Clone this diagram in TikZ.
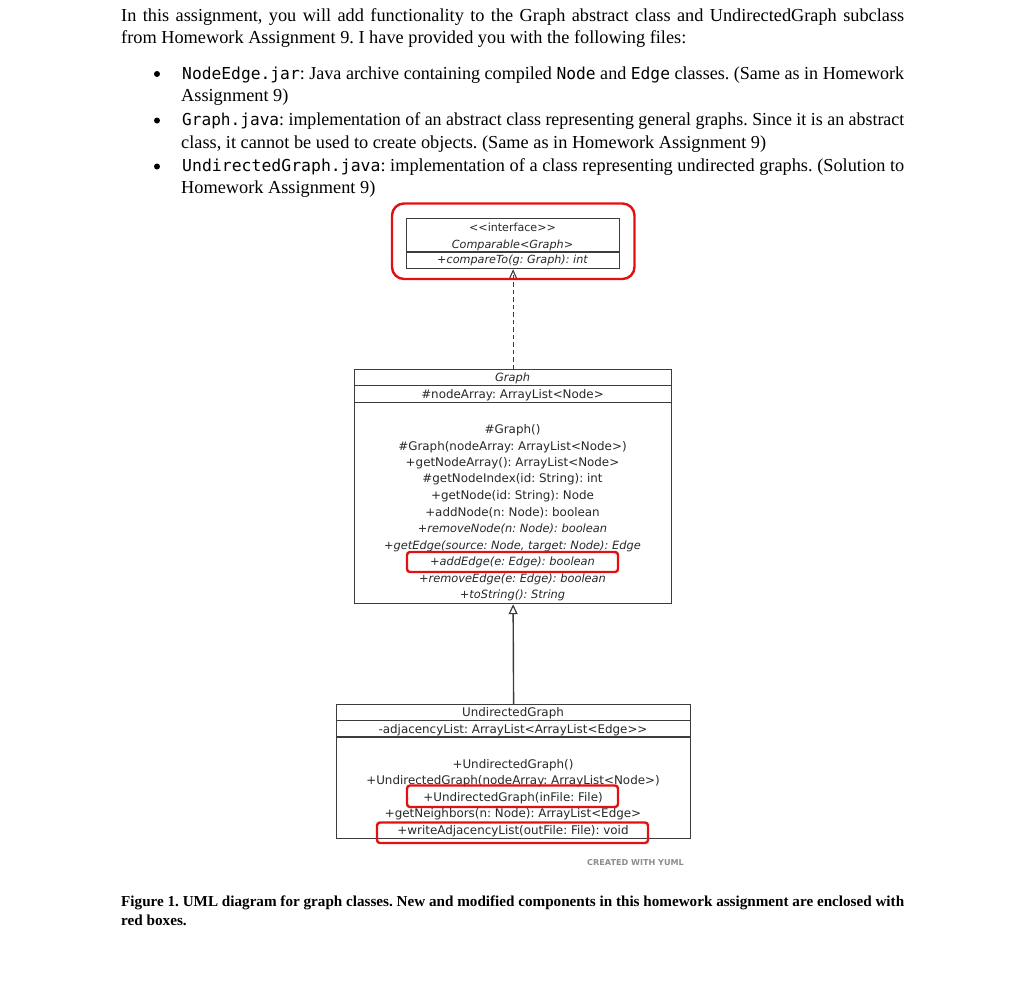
\documentclass[tikz,border=0pt]{standalone}
\usepackage{fontspec}
\usepackage{graphicx}
\setmainfont{Liberation Serif}
\newfontfamily\codefont{DejaVu Sans Mono}[Scale=0.9]
\newfontfamily\umlfont{DejaVu Sans}
\usetikzlibrary{arrows.meta}
\definecolor{hl}{RGB}{228,16,16}
\definecolor{uml}{RGB}{60,60,60}
\definecolor{umltext}{RGB}{40,40,40}
\newsavebox\jlbox
\newcommand\jl[2]{\sbox\jlbox{#2}\ifdim\wd\jlbox>#1\relax\resizebox{#1}{\height}{\usebox\jlbox}\else\makebox[#1][s]{#2}\fi}
\frenchspacing
\begin{document}
\begin{tikzpicture}[x=1pt,y=-1pt,
  body/.style={anchor=base west,inner sep=0,font=\fontsize{18.3}{22}\selectfont\frenchspacing},
  capt/.style={anchor=base west,inner sep=0,font=\fontsize{15.2}{18}\selectfont\bfseries\frenchspacing},
  bul/.style={circle,fill=black,inner sep=0,minimum size=6pt},
  cls/.style={draw=uml,line width=1.2pt,rectangle,inner sep=0,anchor=north west},
  sepline/.style={draw=uml,line width=1.2pt},
  mem/.style={anchor=base,inner sep=0,text=umltext,font=\umlfont\fontsize{11.9}{13}\selectfont},
  memi/.style={mem,font=\umlfont\itshape\fontsize{11.4}{13}\selectfont},
  smem/.style={anchor=base,inner sep=0,text=umltext,font=\umlfont\fontsize{11.1}{12}\selectfont},
  smemi/.style={smem,font=\umlfont\itshape\fontsize{11.2}{12}\selectfont},
  hlbox/.style={draw=hl,line width=2.4pt,rounded corners=3pt},
  realize/.style={draw=uml,line width=1.1pt,dash pattern=on 4.5pt off 3pt,-{Straight Barb[length=9pt,width=8pt,line width=1.1pt]}},
  inherit/.style={draw=uml,line width=1.4pt,-{Triangle[open,length=10pt,width=9pt,line width=1.2pt,fill=white]}}
]
\useasboundingbox[fill=white] (0,0) rectangle (1024,980);

% ---- intro text ----
\node[body] (t1) at (121,21.5) {\jl{783pt}{In this assignment, you will add functionality to the Graph abstract class and UndirectedGraph subclass}};
\node[body] (t2) at (121,43.5) {from Homework Assignment 9. I have provided you with the following files:};

\node[bul] (d1) at (157,74) {};
\node[body] (b1a) at (182,79) {\jl{722pt}{{\codefont NodeEdge.jar}: Java archive containing compiled {\codefont Node} and {\codefont Edge} classes. (Same as in Homework}};
\node[body] (b1b) at (181,101.5) {Assignment 9)};

\node[bul] (d2) at (157,120.5) {};
\node[body] (b2a) at (182,125.5) {\jl{722pt}{{\codefont Graph.java}: implementation of an abstract class representing general graphs. Since it is an abstract}};
\node[body] (b2b) at (181,148) {class, it cannot be used to create objects. (Same as in Homework Assignment 9)};

\node[bul] (d3) at (157,166.5) {};
\node[body] (b3a) at (182,171.5) {\jl{722pt}{{\codefont UndirectedGraph.java}: implementation of a class representing undirected graphs. (Solution to}};
\node[body] (b3b) at (181,193.5) {Homework Assignment 9)};

% ---- Comparable interface ----
\node[cls,minimum width=213pt,minimum height=50pt] (comp) at (406,218) {};
\draw[sepline] (406,252) -- (619,252);
\node[smem] (c1) at (512.5,231) {<{}<interface>{}>};
\node[smemi] (c2) at (512.5,248) {Comparable<Graph>};
\node[smemi] (c3) at (512.5,263.5) {+compareTo(g: Graph): int};

% ---- Graph ----
\node[cls,minimum width=317pt,minimum height=234pt] (graph) at (354,369) {};
\draw[sepline] (354,385.5) -- (671,385.5);
\draw[sepline] (354,402.5) -- (671,402.5);
\node[memi] (gt) at (512.5,381.5) {Graph};
\node[mem] (ga) at (512.5,398) {\#nodeArray: ArrayList<Node>};
\node[mem]  (g1)  at (512.5,433.5) {\#Graph()};
\node[mem]  (g2)  at (512.5,450)   {\#Graph(nodeArray: ArrayList<Node>)};
\node[mem]  (g3)  at (512.5,466)   {+getNodeArray(): ArrayList<Node>};
\node[mem]  (g4)  at (512.5,482.5) {\#getNodeIndex(id: String): int};
\node[mem]  (g5)  at (512.5,499.5) {+getNode(id: String): Node};
\node[mem]  (g6)  at (512.5,516.5) {+addNode(n: Node): boolean};
\node[memi] (g7)  at (512.5,532.5) {+removeNode(n: Node): boolean};
\node[memi] (g8)  at (512.5,549)   {+getEdge(source: Node, target: Node): Edge};
\node[memi] (g9)  at (512.5,565.5) {+addEdge(e: Edge): boolean};
\node[memi] (g10) at (512.5,582.5) {+removeEdge(e: Edge): boolean};
\node[memi] (g11) at (512.5,598.5) {+toString(): String};

% ---- UndirectedGraph ----
\node[cls,minimum width=354pt,minimum height=134pt] (ug) at (336,704) {};
\draw[sepline] (336,720.5) -- (690,720.5);
\draw[sepline] (336,737) -- (690,737);
\node[mem] (ut) at (513,716.5) {UndirectedGraph};
\node[mem] (ua) at (513,733) {-adjacencyList: ArrayList<ArrayList<Edge>{}>};
\node[mem] (u1) at (513,768.5) {+UndirectedGraph()};
\node[mem] (u2) at (513,784.5) {+UndirectedGraph(nodeArray: ArrayList<Node>)};
\node[mem] (u3) at (513,801.5) {+UndirectedGraph(inFile: File)};
\node[mem] (u4) at (513,817.5) {+getNeighbors(n: Node): ArrayList<Edge>};
\node[mem] (u5) at (513,834.5) {+writeAdjacencyList(outFile: File): void};

% ---- connectors ----
\draw[realize] (graph.north) -- (comp.south);
\draw[inherit] (ug.north) -- (graph.south);

\node[anchor=base,inner sep=0,text=black!45,font=\umlfont\bfseries\fontsize{8.1}{9}\selectfont] (yuml) at (635.5,865) {CREATED WITH YUML};

% ---- red highlight boxes ----
\draw[hlbox,rounded corners=12pt] (392,203.5) rectangle (634.5,279);
\draw[hlbox] (407,552) rectangle (618,572);
\draw[hlbox] (407,785.5) rectangle (618,807);
\draw[hlbox] (377,822.5) rectangle (648,843);

% ---- caption ----
\node[capt] (f1) at (121,906) {\jl{783pt}{Figure 1. UML diagram for graph classes. New and modified components in this homework assignment are enclosed with}};
\node[capt] (f2) at (121,925) {red boxes.};
\end{tikzpicture}
\end{document}
